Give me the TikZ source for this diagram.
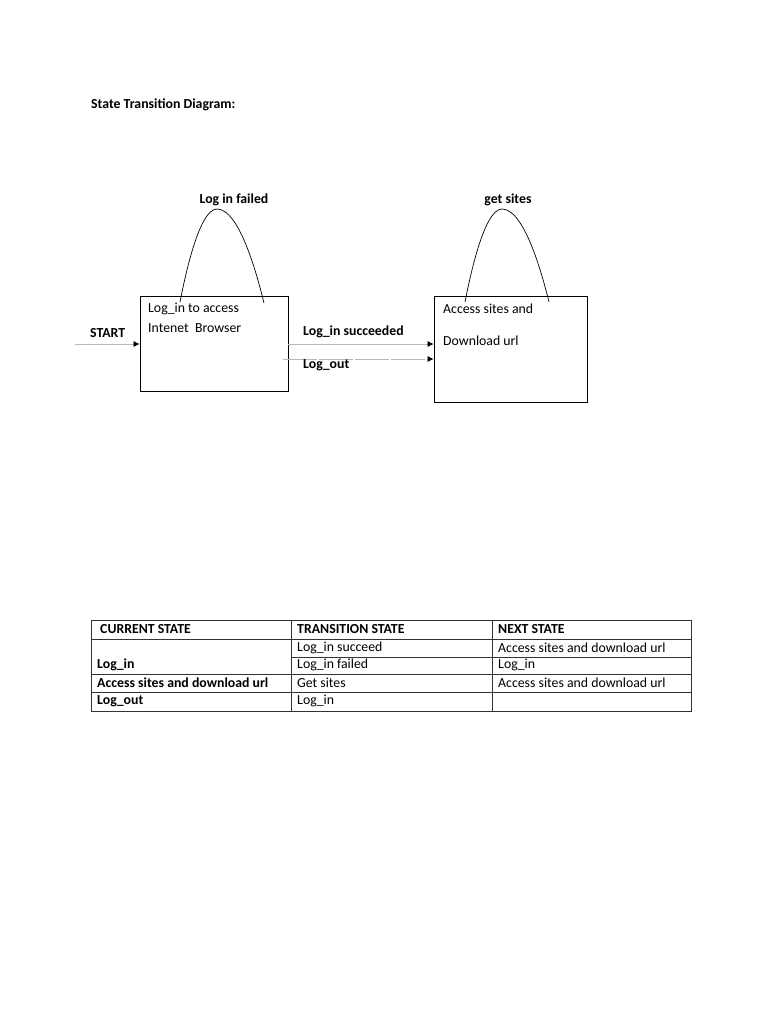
\documentclass[tikz,border=0pt]{standalone}
\usepackage{fontspec}
\setmainfont{Carlito}
\usetikzlibrary{arrows.meta}

\newcommand{\docsize}{\fontsize{13.8}{16}\selectfont}

\tikzset{
	lbl/.style={font=\docsize\bfseries, inner sep=0pt},
	txt/.style={font=\docsize, inner sep=0pt},
	statebox/.style={draw, line width=0.8pt, inner sep=0pt},
	flow/.style={draw=black!28, line width=0.7pt, -{Latex[black,length=6pt,width=6pt]}},
	selfarc/.style={line width=0.7pt},
	grid/.style={draw=black!80, line width=0.8pt}
}

\begin{document}
\begin{tikzpicture}[x=1pt, y=-1pt]
			%%%%% START %%%%%
			\useasboundingbox (0, 0) rectangle (768, 1024);
			
			\node[lbl, anchor=west] (title) at (91, 105) {State Transition Diagram:};
			
			% states
			\node[statebox, minimum width=148, minimum height=95] (login) at (214, 343.5) {};
			\node[statebox, minimum width=153, minimum height=106] (access) at (510.5, 349) {};
			
			\node[txt, anchor=west] (logintxta) at (148, 309) {Log\_in to access};
			\node[txt, anchor=west] (logintxtb) at (148, 328) {Intenet~ Browser};
			\node[txt, anchor=west] (accesstxta) at (443, 309) {Access sites and};
			\node[txt, anchor=west] (accesstxtb) at (443, 341) {Download url};
			
			% self loops
			\coordinate (failL) at (180, 302);
			\coordinate (failT) at (217, 209);
			\coordinate (failR) at (264, 303);
			\draw[selfarc] (failL) parabola bend (failT) (failR);
			\node[lbl] (failed) at (234, 200) {Log in failed};
			
			\coordinate (getL) at (465, 302);
			\coordinate (getT) at (502, 209);
			\coordinate (getR) at (549, 302);
			\draw[selfarc] (getL) parabola bend (getT) (getR);
			\node[lbl] (getsites) at (508, 200) {get sites};
			
			% transitions
			\coordinate (startpt) at (75, 344);
			\coordinate (outpt) at (283, 359);
			\draw[flow] (startpt) -- (startpt -| login.west);
			\node[lbl, anchor=west] (start) at (90, 333) {START};
			
			\draw[flow] (login.east |- startpt) -- (access.west |- startpt);
			\node[lbl, anchor=west] (succ) at (303, 332) {Log\_in succeeded};
			
			\draw[flow, dash pattern=on 34pt off 2pt] (outpt) -- (outpt -| access.west);
			\node[lbl, anchor=west] (logout) at (303, 365) {Log\_out};
			
			% table
			\draw[grid] (91, 620) rectangle (691, 711);
			\draw[grid] (291, 620) -- (291, 711);
			\draw[grid] (492, 620) -- (492, 711);
			\draw[grid] (91, 639) -- (691, 639);
			\draw[grid] (291, 657) -- (691, 657);
			\draw[grid] (91, 674) -- (691, 674);
			\draw[grid] (91, 692) -- (691, 692);
			
			\node[lbl, anchor=west] (h1) at (100, 629) {CURRENT STATE};
			\node[lbl, anchor=west] (h2) at (297, 629) {TRANSITION STATE};
			\node[lbl, anchor=west] (h3) at (498, 629) {NEXT STATE};
			
			\node[txt, anchor=west] (r1b) at (297, 647.5) {Log\_in succeed};
			\node[txt, anchor=west] (r1c) at (498, 647.5) {Access sites and download url};
			
			\node[lbl, anchor=west] (r2a) at (97, 665) {Log\_in};
			\node[txt, anchor=west] (r2b) at (297, 665) {Log\_in failed};
			\node[txt, anchor=west] (r2c) at (498, 665) {Log\_in};
			
			\node[lbl, anchor=west] (r3a) at (97, 683) {Access sites and download url};
			\node[txt, anchor=west] (r3b) at (297, 683) {Get sites};
			\node[txt, anchor=west] (r3c) at (498, 683) {Access sites and download url};
			
			\node[lbl, anchor=west] (r4a) at (97, 701) {Log\_out};
			\node[txt, anchor=west] (r4b) at (297, 701) {Log\_in};
			%%%%% END %%%%%
\end{tikzpicture}
\end{document}
